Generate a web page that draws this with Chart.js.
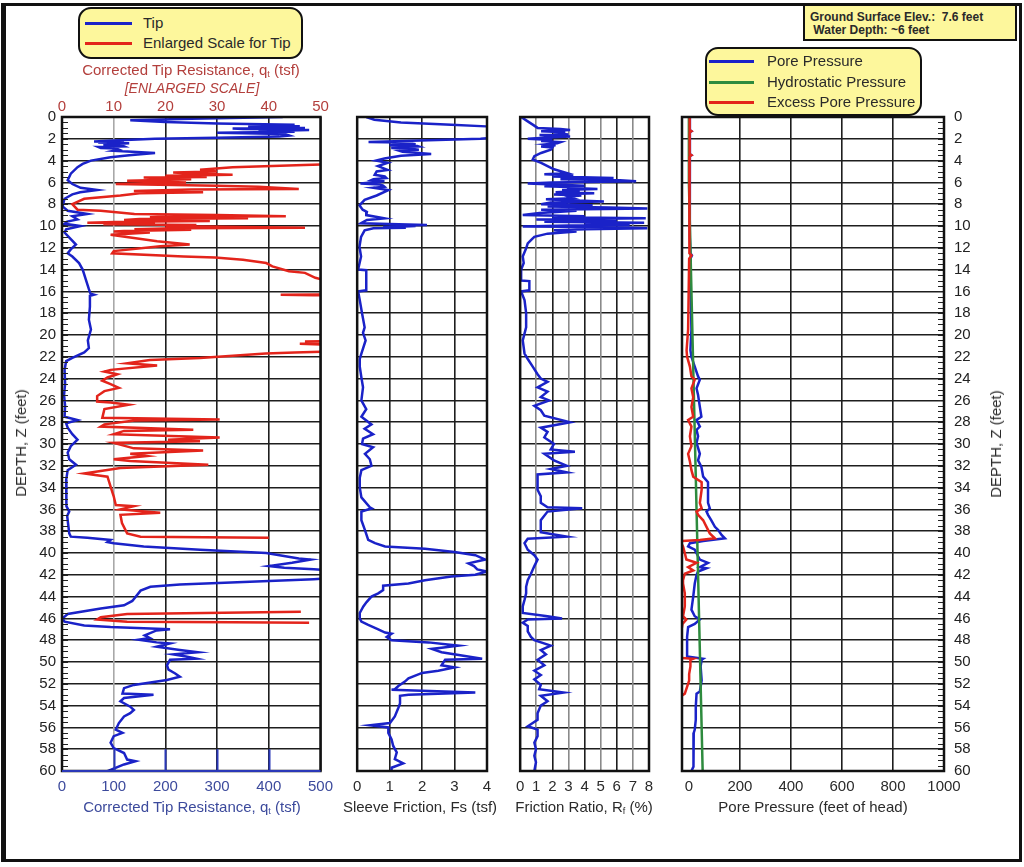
<!DOCTYPE html>
<html><head><meta charset="utf-8"><title>CPT log</title>
<script src="https://cdn.jsdelivr.net/npm/chart.js@4.4.1/dist/chart.umd.min.js"></script>
<style>
html,body{margin:0;padding:0;background:#fff;}
body{width:1024px;height:867px;position:relative;overflow:hidden;font-family:"Liberation Sans",Arial,Helvetica,sans-serif;color:#2a2a2a;}
.abs{position:absolute;white-space:nowrap;}
.t15{font-size:15px;line-height:18px;}
.ctr{transform:translateX(-50%);}
.leg{position:absolute;box-sizing:border-box;background:#fdf79c;border:2px solid #111;border-radius:13px;}
.sw{position:absolute;height:3px;}
sub{font-size:9px;vertical-align:-2px;line-height:0;}
.frame{position:absolute;left:1px;top:3px;width:1013px;height:853px;border-style:solid;border-color:#111;border-width:3px 3px 3px 5px;}
.info{position:absolute;left:803px;top:4px;width:214px;height:37px;box-sizing:border-box;background:#fdf79c;border:2px solid #111;font-weight:bold;font-size:12px;line-height:13px;padding:5px 0 0 5px;}
</style></head><body>
<div class="frame"></div>

<script>
// ---------------- DATA ----------------
const depthTicks = [0,2,4,6,8,10,12,14,16,18,20,22,24,26,28,30,32,34,36,38,40,42,44,46,48,50,52,54,56,58,60];
const tipTicks = [0,100,200,300,400,500];
const tipEnlargedTicks = [0,10,20,30,40,50];
const fsTicks = [0,1,2,3,4];
const rfTicks = [0,1,2,3,4,5,6,7,8];
const porePressureTicks = [0,200,400,600,800,1000];

// [depth (ft), corrected tip resistance qt (tsf)]
const tipQt = [[0,427],[0.15,250],[0.3,132],[0.45,200],[0.6,300],[0.7,450],[0.8,400],[0.85,460],[0.9,360],[1.0,470],[1.05,330],[1.1,350],[1.15,460],[1.2,478],[1.3,380],[1.35,450],[1.45,300],[1.55,430],[1.7,440],[1.8,420],[1.9,300],[2.0,180],[2.15,100],[2.25,62],[2.3,120],[2.35,70],[2.4,130],[2.5,90],[2.55,80],[2.6,115],[2.7,120],[2.75,70],[2.85,75],[2.9,105],[3.0,110],[3.1,100],[3.3,180],[3.5,130],[3.7,94],[4.0,56],[4.3,40],[4.6,30],[5.2,17],[5.8,11],[6.15,20],[6.5,36],[6.7,68],[6.9,35],[7.1,20],[7.5,5],[8.2,1],[8.6,11],[8.9,49],[9.1,20],[9.4,30],[9.6,10],[9.8,5],[10.0,36],[10.3,8],[10.6,5],[11.2,17],[11.7,27],[12.15,17],[12.5,11],[12.8,20],[13.4,33],[14.0,40],[14.9,46],[15.8,52],[16.2,55],[16.3,62],[16.4,54],[17.4,54],[18.6,52],[19.5,56],[20.5,50],[21.2,52],[21.6,43],[22.1,20],[22.4,8],[23.2,5],[24.5,6],[25.5,4],[26.5,6],[27.5,5],[27.8,30],[28.1,8],[28.5,11],[29.1,20],[29.6,30],[30.2,17],[30.8,11],[31.4,14],[31.9,27],[32.4,11],[33.3,8],[34.5,9],[35.7,8],[36.2,14],[36.6,10],[38.2,14],[38.5,17],[38.6,49],[38.8,94],[39.0,88],[39.1,100],[39.4,158],[39.7,267],[40.0,395],[40.5,458],[40.6,481],[40.9,445],[41.2,401],[41.35,430],[41.5,487],[41.6,520],[42.3,530],[42.4,487],[42.9,228],[43.1,171],[43.45,152],[44.4,136],[44.8,120],[45.1,75],[45.6,11],[46.0,1],[46.3,5],[46.65,43],[46.8,94],[46.9,158],[47.0,209],[47.1,183],[47.55,160],[47.8,170],[47.95,148],[48.2,183],[48.3,209],[48.6,183],[48.9,228],[49.1,263],[49.3,215],[49.5,240],[49.7,260],[49.8,209],[50.3,203],[50.7,206],[51.05,219],[51.35,228],[51.65,203],[52.1,139],[52.4,120],[52.9,117],[53.0,177],[53.3,120],[53.6,113],[54.1,132],[54.4,139],[54.7,132],[55.0,120],[55.6,110],[56.2,104],[56.5,117],[56.8,100],[57.4,94],[57.9,100],[58.35,120],[58.95,126],[59.1,142],[59.4,120],[59.9,94],[60.0,104]];

// [depth, qt on enlarged scale (tsf)]; null = gap in trace
const tipEnlarged = [[4.3,55],[4.4,46.8],[4.6,33],[4.85,26.7],[5.0,30],[5.1,21.5],[5.2,26],[5.3,33],[5.4,20],[5.5,28],[5.55,15.8],[5.7,25],[5.85,12.6],[6.0,24],[6.15,10.4],[6.3,30],[6.4,38],[6.6,45.8],[6.65,25],[6.8,13.9],[6.9,27.3],[7.0,15],[7.2,11.3],[7.5,4.3],[8.0,2],[8.5,3],[8.6,7.5],[8.9,14],[9.0,30],[9.1,43.3],[9.15,20],[9.2,17],[9.25,32],[9.3,36],[9.35,15],[9.45,12],[9.5,24],[9.55,28.6],[9.6,12],[9.7,4.9],[9.75,18],[9.85,8],[9.9,26],[10.0,20],[10.1,35],[10.15,47],[10.2,22],[10.3,14],[10.35,25],[10.45,12],[10.5,10],[10.6,17],[10.8,9.4],[11.4,18.4],[11.7,24.7],[11.85,19],[12.3,10],[12.5,9.7],[12.8,23.5],[12.9,29.6],[13.1,35],[13.4,39.5],[13.7,40.7],[14.15,43.9],[14.3,47],[14.75,49],[14.9,50.2],[15.1,53],[16.25,58],[16.3,42.3],[16.35,48.7],[16.4,58],[20.55,56],[20.6,47],[20.7,50],[20.8,46],[20.9,52],[21.5,52],[21.6,45],[21.7,39.4],[22.1,26.7],[22.3,17],[22.6,12.6],[22.8,18.4],[23.2,9.4],[23.35,8.2],[23.6,10.7],[23.9,8.8],[24.2,7.8],[24.5,9.4],[24.85,11],[25.15,8.2],[25.6,6.8],[26.1,6.8],[26.2,9.4],[26.4,12.9],[26.8,8.2],[27.6,7.8],[27.75,30.5],[27.85,14],[28.2,8.2],[28.4,7.5],[28.7,25.4],[28.8,12],[29.1,10],[29.4,30.5],[29.6,20.5],[29.75,26.7],[29.9,10],[30.4,13.9],[30.6,27.3],[30.9,13.2],[31.1,16.4],[31.4,10],[31.55,13.2],[31.9,28.3],[32.2,11.3],[32.7,4.3],[33.0,8.8],[33.9,9.4],[34.8,10],[35.6,10.4],[35.7,13.9],[36.0,11.3],[36.3,19],[36.5,11.3],[37.25,11.6],[38.2,12.6],[38.5,15.2],[38.6,40],[38.65,null],[45.4,46.2],[45.6,12.6],[45.9,7.5],[46.1,6.8],[46.3,12.6],[46.35,33],[46.4,47.8]];

// [depth, sleeve friction Fs (tsf)]
const sleeveFs = [[0,0.28],[0.25,0.53],[0.5,1.35],[0.7,2.9],[0.86,3.97],[1.0,4.3],[1.9,4.3],[2.0,3.8],[2.3,0.35],[2.35,1.4],[2.4,1.1],[2.45,1.7],[2.5,1.8],[2.55,1.2],[2.6,1.0],[2.65,1.85],[2.7,1.9],[2.75,1.3],[2.85,1.05],[2.9,1.6],[3.0,1.9],[3.1,1.3],[3.2,1.4],[3.3,1.9],[3.4,2.28],[3.55,1.35],[3.8,0.84],[4.0,0.58],[4.2,0.94],[4.5,0.64],[4.85,0.94],[5.0,0.6],[5.3,0.54],[5.45,0.85],[5.6,0.9],[5.7,0.5],[5.8,0.43],[5.9,0.84],[6.1,0.1],[6.2,0.7],[6.3,0.8],[6.4,0.84],[6.5,0.5],[6.7,0.96],[7.2,0.6],[7.6,0.23],[8.1,0.07],[8.5,0.17],[8.7,0.3],[9.0,0.28],[9.3,0.84],[9.45,0.3],[9.75,0.12],[9.9,2.15],[9.95,1.0],[10.0,1.8],[10.05,1.46],[10.1,0.8],[10.15,1.5],[10.2,0.5],[10.4,0.23],[11.0,0.12],[11.9,0.07],[12.8,0.12],[14.0,0.03],[14.05,0.28],[15.9,0.28],[16.0,0.03],[16.8,0.08],[18.0,0.15],[19.3,0.23],[19.8,0.18],[20.5,0.26],[21.7,0.13],[22.2,0.08],[22.9,0.08],[23.9,0.13],[24.8,0.18],[26.0,0.13],[26.8,0.28],[27.5,0.13],[28.2,0.44],[28.6,0.23],[29.1,0.49],[29.5,0.18],[30.0,0.15],[30.3,0.49],[30.9,0.24],[31.4,0.39],[32.0,0.44],[32.4,0.13],[33.1,0.08],[34.0,0.08],[34.9,0.13],[35.8,0.39],[35.9,0.45],[36.2,0.13],[37.0,0.13],[37.9,0.24],[38.8,0.34],[39.1,0.55],[39.4,0.86],[39.6,2.09],[39.9,3.0],[40.2,3.64],[40.6,3.95],[40.95,3.43],[41.2,3.6],[41.5,3.7],[41.7,4.0],[42.0,3.64],[42.15,2.9],[42.5,2.09],[42.8,1.58],[43.0,0.8],[43.4,0.8],[43.7,0.65],[44.0,0.44],[44.5,0.29],[44.9,0.19],[45.5,0.08],[46.0,0.08],[46.3,0.13],[46.6,0.34],[47.0,0.65],[47.3,0.86],[47.4,1.06],[47.7,0.91],[48.0,1.06],[48.2,2.2],[48.5,3.12],[48.8,2.3],[49.1,2.6],[49.7,3.85],[49.8,2.71],[50.3,2.6],[50.5,3.0],[50.8,2.5],[51.0,2.0],[51.5,1.58],[51.8,1.47],[52.2,1.27],[52.5,1.16],[52.55,1.06],[52.8,3.64],[53.0,1.58],[53.1,1.32],[53.8,1.32],[54.2,1.27],[55.0,1.16],[55.6,1.01],[55.8,0.4],[56.0,0.96],[56.5,0.96],[57.1,1.06],[57.7,1.11],[58.3,1.22],[58.9,1.16],[59.3,1.42],[59.7,1.06],[60.0,1.06]];

// [depth, friction ratio Rf (%)]
const frictionRatio = [[0,0.06],[0.4,0.47],[0.7,0.78],[1.0,1.08],[1.1,2.5],[1.2,3.1],[1.3,1.3],[1.4,2.8],[1.5,2.1],[1.6,3.0],[1.65,1.2],[1.75,2.6],[1.8,3.1],[1.9,1.5],[2.0,0.47],[2.1,2.0],[2.2,1.3],[2.3,2.5],[2.4,2.3],[2.5,1.6],[2.6,2.2],[2.7,1.3],[2.8,2.0],[3.0,1.9],[3.3,1.3],[3.6,0.88],[3.9,0.78],[4.2,1.3],[4.5,1.7],[4.8,2.1],[5.15,2.9],[5.25,1.5],[5.35,3.3],[5.45,2.0],[5.55,4.5],[5.6,5.8],[5.7,2.5],[5.8,6.2],[5.9,7.2],[6.0,2.0],[6.1,0.47],[6.2,2.1],[6.3,4.0],[6.35,1.5],[6.45,3.5],[6.5,2.9],[6.6,4.8],[6.7,2.6],[6.8,3.7],[6.9,2.2],[7.0,4.6],[7.1,2.1],[7.2,3.8],[7.3,3.0],[7.45,3.3],[7.55,1.6],[7.6,2.2],[7.75,5.2],[7.85,1.9],[8.0,1.3],[8.1,4.5],[8.2,1.7],[8.3,5.5],[8.4,7.9],[8.5,1.3],[8.6,3.5],[8.7,2.5],[8.8,1.2],[9.0,0.16],[9.1,4.0],[9.2,2.0],[9.3,7.8],[9.4,1.0],[9.45,3.3],[9.55,6.0],[9.6,1.5],[9.7,7.7],[9.8,4.0],[9.9,6.8],[9.95,3.0],[10.05,0.16],[10.1,5.5],[10.2,7.9],[10.3,4.0],[10.4,2.1],[10.5,3.5],[10.7,1.7],[11.0,0.88],[11.3,0.67],[11.6,0.47],[12.05,0.37],[12.4,0.27],[12.8,0.16],[13.4,0.22],[14.0,0.06],[15.0,0.06],[15.05,0.57],[15.9,0.57],[16.0,0.06],[16.8,0.27],[18.0,0.37],[19.3,0.37],[20.5,0.16],[21.7,0.27],[22.2,0.47],[22.9,0.78],[23.6,1.08],[24.0,1.28],[24.3,1.7],[24.8,1.08],[25.2,1.7],[25.7,1.28],[26.0,1.8],[26.5,0.88],[26.9,1.28],[27.4,1.5],[28.0,3.1],[28.5,1.28],[28.9,1.7],[29.4,1.5],[30.0,2.1],[30.5,1.9],[30.7,3.4],[30.9,1.5],[31.5,2.1],[32.0,2.9],[32.3,1.9],[32.6,2.9],[32.8,1.08],[33.4,1.08],[34.2,1.08],[34.8,1.28],[35.4,1.28],[35.8,1.7],[35.9,3.85],[36.2,1.7],[37.0,1.28],[37.6,1.28],[38.1,1.28],[38.5,2.9],[38.7,0.47],[39.1,0.27],[39.7,0.47],[40.2,0.88],[40.6,1.08],[41.2,0.88],[41.9,0.67],[42.5,0.47],[43.1,0.37],[43.7,0.37],[44.3,0.27],[44.9,0.16],[45.5,0.16],[45.8,1.7],[46.0,2.6],[46.1,0.47],[46.4,0.16],[46.7,0.47],[47.2,0.47],[47.7,0.67],[48.0,0.88],[48.5,1.9],[48.9,1.28],[49.3,1.6],[49.8,1.08],[50.3,1.5],[50.8,0.88],[51.2,1.28],[51.6,0.88],[52.1,1.28],[52.5,1.18],[52.8,2.7],[53.1,1.28],[53.6,1.7],[54.0,1.28],[54.7,1.08],[55.3,1.08],[55.9,0.47],[56.2,1.08],[56.8,1.08],[57.4,0.88],[58.0,0.98],[58.6,0.88],[59.2,0.98],[60.0,0.88]];

// [depth, pore pressure (feet of head)]
const porePressure = [[0,2],[1.2,4],[1.3,10],[1.4,4],[3.4,4],[3.5,10],[3.6,4],[6.0,3],[9.0,4],[11.0,4],[12.5,6],[12.7,12],[13.0,6],[16.0,7],[19.5,10],[21.4,6],[22.0,10],[22.9,23],[23.8,36],[24.1,43],[24.9,30],[25.5,36],[26.6,43],[27.5,49],[27.8,30],[28.4,43],[28.7,30],[29.3,36],[29.9,30],[30.9,43],[31.5,36],[32.1,49],[33.0,56],[33.5,75],[34.8,75],[35.4,75],[35.9,82],[36.2,69],[36.5,75],[37.0,88],[37.6,102],[37.9,115],[38.35,128],[38.65,141],[38.9,56],[39.1,4],[39.4,-3],[39.7,23],[40.3,36],[40.6,43],[40.9,75],[41.3,43],[41.4,69],[41.7,36],[42.0,30],[42.8,23],[44.0,17],[45.2,10],[45.8,23],[46.1,43],[46.5,23],[46.8,-3],[47.7,-7],[49.5,-7],[49.7,56],[49.8,50],[50.4,46],[51.7,50],[52.7,43],[52.9,30],[54.1,27],[55.3,27],[56.2,23],[56.5,19],[58.1,19],[59.6,17],[60.0,10]];

// [depth, hydrostatic pressure (feet of head)]
const hydrostatic = [[0,0],[6,0],[20,14],[40,34],[60,54]];

// [depth, excess pore pressure (feet of head)]
const excessPore = [[0,3],[1.2,3],[1.3,10],[1.4,3],[3.4,3],[3.5,10],[3.6,3],[6.0,3],[9.0,2],[10.7,1],[12.5,2],[12.7,10],[13.0,1],[19.5,-3],[21.4,-9],[22.0,-7],[22.9,4],[23.8,10],[24.1,23],[24.9,10],[25.7,17],[26.6,10],[27.5,17],[27.8,-3],[28.4,10],[29.3,4],[30.2,10],[30.9,-3],[31.6,4],[32.4,10],[33.0,17],[33.5,50],[34.2,50],[35.4,43],[35.9,50],[36.2,30],[36.5,36],[37.0,56],[37.6,69],[38.2,82],[38.65,102],[38.8,43],[38.9,-30],[39.1,-30],[39.4,-23],[40.0,-16],[40.6,-10],[40.9,30],[41.3,-3],[41.6,17],[41.9,-16],[42.5,-23],[42.8,-23],[43.7,-16],[44.9,-16],[45.8,-23],[46.1,-10],[46.5,-25],[46.8,-27],[47.0,-40],[49.6,-40],[49.7,17],[49.8,6],[50.4,6],[51.1,1],[51.7,1],[52.9,-16],[53.1,-28],[54.1,-28],[56.2,-28],[56.3,-40]];

// ---------------- STYLE ----------------
const BLUE = '#1a22c8', RED = '#e3241b', GREEN = '#2e8b3e';
Chart.defaults.font.family = '"Liberation Sans", Arial, Helvetica, sans-serif';
Chart.defaults.font.size = 15;
Chart.defaults.color = '#2a2a2a';

function pts(arr) { return arr.map(p => ({ x: p[1], y: p[0] })); }

function series(arr, color, order, xAxisID) {
  return { data: pts(arr), showLine: true, borderColor: color, backgroundColor: color,
    borderWidth: 2.5, pointRadius: 0, tension: 0, spanGaps: false, order: order,
    xAxisID: xAxisID || 'x', yAxisID: 'y', clip: 0 };
}

function yScale(pos, width, show) {
  return { type: 'linear', reverse: true, min: 0, max: 60, position: pos,
    afterBuildTicks: s => { s.ticks = depthTicks.map(v => ({ value: v })); },
    ticks: { display: show, color: '#222', padding: pos === 'left' ? 6 : 10, autoSkip: false, font: { size: 15 } },
    grid: { color: '#1e1e1e', lineWidth: 1.6, drawTicks: false },
    border: { display: false },
    afterFit: s => { s.width = width; s.paddingTop = 0; s.paddingBottom = 0; } };
}

function xScale(pos, min, max, ticks, height, labelColor, gridColorFn, showGrid) {
  return { type: 'linear', min: min, max: max, position: pos,
    afterBuildTicks: s => { s.ticks = ticks.map(v => ({ value: v })); },
    ticks: { color: labelColor, padding: pos === 'top' ? 1 : 7, autoSkip: false, maxRotation: 0, font: { size: 15 },
      callback: v => String(v) },
    grid: { display: showGrid, drawTicks: false, lineWidth: 1.6,
      color: c => gridColorFn(c.tick ? c.tick.value : 0) },
    border: { display: false },
    afterFit: s => { s.height = height; } };
}

const framePlugin = {
  id: 'frameBox',
  afterDatasetsDraw(chart, args, o) {
    const { ctx, chartArea: a, scales } = chart;
    const y = scales.y;
    ctx.save();
    if (o.minorSide) {
      ctx.strokeStyle = '#222'; ctx.lineWidth = 1.2;
      ctx.beginPath();
      for (let i = 0; i <= 120; i++) {
        const py = Math.round(y.getPixelForValue(i / 2)) + 0.5;
        if (o.minorSide === 'left') { ctx.moveTo(a.left, py); ctx.lineTo(a.left + 6, py); }
        else { ctx.moveTo(a.right - 6, py); ctx.lineTo(a.right, py); }
      }
      ctx.stroke();
    }
    ctx.strokeStyle = '#111'; ctx.lineWidth = 2.5;
    ctx.strokeRect(a.left, a.top, a.right - a.left, a.bottom - a.top);
    if (o.blueFoot) {
      const x = scales.x;
      ctx.strokeStyle = '#2a38b8'; ctx.lineWidth = 2;
      ctx.beginPath();
      [100, 200, 300, 400].forEach(v => {
        const px = Math.round(x.getPixelForValue(v)) + 0.5;
        ctx.moveTo(px, y.getPixelForValue(58)); ctx.lineTo(px, a.bottom);
      });
      ctx.moveTo(a.left, a.bottom); ctx.lineTo(a.right, a.bottom);
      ctx.stroke();
    }
    ctx.restore();
  }
};

function makePanel(geo, scales, datasets, frameOpts) {
  const wrap = document.createElement('div');
  wrap.style.cssText = 'position:absolute;left:' + (geo.l - geo.L) + 'px;top:' + (geo.t - geo.T) + 'px;width:' +
    (geo.w + geo.L + geo.R) + 'px;height:' + (geo.h + geo.T + geo.B) + 'px;';
  const c = document.createElement('canvas');
  wrap.appendChild(c);
  document.body.appendChild(wrap);
  return new Chart(c, {
    type: 'scatter',
    data: { datasets: datasets },
    options: {
      responsive: true, maintainAspectRatio: false, animation: false, devicePixelRatio: 1,
      layout: { padding: geo.pad },
      plugins: { legend: { display: false }, tooltip: { enabled: false }, frameBox: frameOpts },
      events: [],
      scales: scales
    },
    plugins: [framePlugin]
  });
}

const dark = () => '#1e1e1e';

// Panel 1: corrected tip resistance
makePanel({ l: 62, t: 117, w: 260, h: 654, L: 52, T: 57, R: 18, B: 50, pad: { left: 0, top: 0, right: 18, bottom: 0 } },
  {
    y: yScale('left', 52, true),
    x: xScale('bottom', 0, 500, tipTicks, 50, '#3c4a9c', v => v === 100 ? '#a8a8a8' : '#1e1e1e', true),
    x2: xScale('top', 0, 50, tipEnlargedTicks, 57, '#b33f3c', dark, false)
  },
  [series(tipEnlarged, RED, 0, 'x2'), series(tipQt, BLUE, 1, 'x')],
  { minorSide: 'left', blueFoot: true });

// Panel 2: sleeve friction
makePanel({ l: 356, t: 117, w: 131, h: 654, L: 10, T: 10, R: 15, B: 50, pad: { left: 10, top: 10, right: 15, bottom: 0 } },
  {
    y: yScale('left', 0, false),
    x: xScale('bottom', 0, 4, fsTicks, 50, '#2a2a2a', dark, true)
  },
  [series(sleeveFs, BLUE, 0)],
  {});

// Panel 3: friction ratio
makePanel({ l: 519, t: 117, w: 130, h: 654, L: 10, T: 10, R: 15, B: 50, pad: { left: 10, top: 10, right: 15, bottom: 0 } },
  {
    y: yScale('left', 0, false),
    x: xScale('bottom', 0, 8, rfTicks, 50, '#2a2a2a', v => (v % 2 === 1) ? '#8a8a8a' : '#1e1e1e', true)
  },
  [series(frictionRatio, BLUE, 0)],
  {});

// Panel 4: pore pressure
makePanel({ l: 682, t: 117, w: 262, h: 654, L: 10, T: 10, R: 70, B: 50, pad: { left: 10, top: 10, right: 0, bottom: 0 } },
  {
    y: yScale('right', 70, true),
    x: xScale('bottom', -27, 1000, porePressureTicks, 50, '#2a2a2a', v => v === 0 ? 'rgba(0,0,0,0)' : '#1e1e1e', true)
  },
  [series(excessPore, RED, 0), series(hydrostatic, GREEN, 1), series(porePressure, BLUE, 2)],
  { minorSide: 'right' });
</script>

<!-- titles and legends -->
<div class="leg" style="left:78px;top:7px;width:225px;height:52px;"></div>
<div class="sw" style="left:85px;top:22px;width:47px;background:#1a22c8;"></div>
<div class="abs t15" style="left:143px;top:14px;">Tip</div>
<div class="sw" style="left:85px;top:42px;width:47px;background:#e3241b;"></div>
<div class="abs t15" style="left:143px;top:34px;">Enlarged Scale for Tip</div>

<div class="abs t15 ctr" style="left:191px;top:61px;color:#b33f3c;">Corrected Tip Resistance, q<sub>t</sub> (tsf)</div>
<div class="abs ctr" style="left:192px;top:79px;color:#b33f3c;font-size:14px;line-height:18px;font-style:italic;">[ENLARGED SCALE]</div>

<div class="abs t15" style="left:21px;top:443px;transform:translate(-50%,-50%) rotate(-90deg);">DEPTH, Z (feet)</div>
<div class="abs t15" style="left:996px;top:444px;transform:translate(-50%,-50%) rotate(-90deg);">DEPTH, Z (feet)</div>

<div class="abs t15 ctr" style="left:192px;top:798px;color:#3c4a9c;">Corrected Tip Resistance, q<sub>t</sub> (tsf)</div>
<div class="abs t15 ctr" style="left:420px;top:798px;">Sleeve Friction, Fs (tsf)</div>
<div class="abs t15 ctr" style="left:584px;top:798px;">Friction Ratio, R<sub>f</sub> (%)</div>
<div class="abs t15 ctr" style="left:813px;top:798px;">Pore Pressure (feet of head)</div>

<div class="info">Ground Surface Elev.:&nbsp; 7.6 feet<br>&nbsp;Water Depth: ~6 feet</div>

<div class="leg" style="left:705px;top:47px;width:217px;height:69px;"></div>
<div class="sw" style="left:709px;top:60px;width:45px;background:#1a22c8;"></div>
<div class="abs t15" style="left:767px;top:52px;">Pore Pressure</div>
<div class="sw" style="left:709px;top:81px;width:45px;background:#2e8b3e;"></div>
<div class="abs t15" style="left:767px;top:73px;">Hydrostatic Pressure</div>
<div class="sw" style="left:709px;top:101px;width:45px;background:#e3241b;"></div>
<div class="abs t15" style="left:767px;top:93px;">Excess Pore Pressure</div>
</body></html>
